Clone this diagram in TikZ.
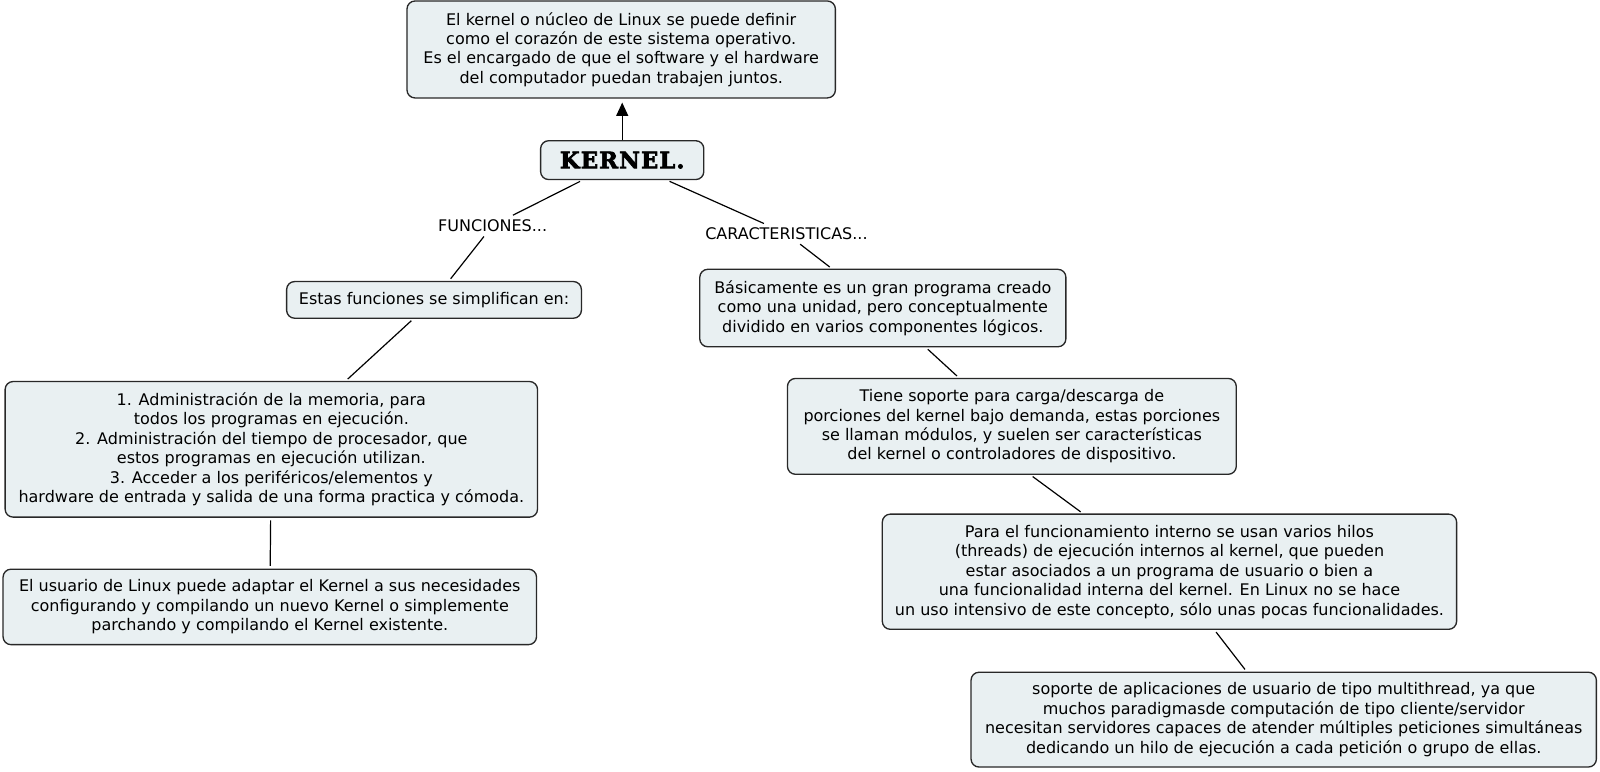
\documentclass[tikz,border=0pt]{standalone}
\usepackage{fontspec}
\setmainfont{DejaVu Sans}
\newfontfamily\titlefont{DejaVu Serif}[LetterSpace=5,BoldFeatures={FakeBold=3}]
\usetikzlibrary{arrows.meta}
\definecolor{boxfill}{RGB}{233,240,242}
\definecolor{boxline}{RGB}{40,40,40}
\tikzset{
  conbox/.style={draw=boxline,fill=boxfill,line width=1pt,rounded corners=6pt,
    align=center,inner sep=2pt,font=\fontsize{12}{14.6}\selectfont},
  conlabel/.style={inner sep=2pt,font=\fontsize{12}{14.6}\selectfont},
  link/.style={line width=0.9pt,shorten <=2pt,shorten >=2pt}
}
\begin{document}
\begin{tikzpicture}[x=0.765pt,y=0.765pt,yscale=-1]
  \useasboundingbox (0,0) rectangle (1568.6,755.9);

  %Rounded Rect
  \node [conbox,minimum width=321.3pt,minimum height=72.7pt] (def) at (609,48.5)
    {El kernel o núcleo de Linux se puede definir\\
     como el corazón de este sistema operativo.\\
     Es el encargado de que el software y el hardware\\
     del computador puedan trabajen juntos.};
  %Rounded Rect
  \node [conbox,minimum width=122.4pt,minimum height=29.1pt,font=\fontsize{17}{17}\titlefont\bfseries] (kernel) at (610,157) {KERNEL.};

  % Text Node
  \node [conlabel] (fun) at (483,221) {FUNCIONES...};
  % Text Node
  \node [conlabel] (car) at (771,229) {CARACTERISTICAS...};

  %Rounded Rect
  \node [conbox,minimum width=221.1pt,minimum height=27.5pt] (simp) at (425.5,294)
    {Estas funciones se simplifican en:};
  %Rounded Rect
  \node [conbox,minimum width=399.3pt,minimum height=101.7pt] (admin) at (266,440.5)
    {1. Administración de la memoria, para\\
     todos los programas en ejecución.\\
     2. Administración del tiempo de procesador, que\\
     estos programas en ejecución utilizan.\\
     3. Acceder a los periféricos/elementos y\\
     hardware de entrada y salida de una forma practica y cómoda.};
  %Rounded Rect
  \node [conbox,minimum width=400.1pt,minimum height=56.6pt] (user) at (264.5,595)
    {El usuario de Linux puede adaptar el Kernel a sus necesidades\\
     configurando y compilando un nuevo Kernel o simplemente\\
     parchando y compilando el Kernel existente.};

  %Rounded Rect
  \node [conbox,minimum width=274.6pt,minimum height=58.1pt] (prog) at (865.5,302)
    {Básicamente es un gran programa creado\\
     como una unidad, pero conceptualmente\\
     dividido en varios componentes lógicos.};
  %Rounded Rect
  \node [conbox,minimum width=336.6pt,minimum height=71.9pt] (mod) at (992,418)
    {Tiene soporte para carga/descarga de\\
     porciones del kernel bajo demanda, estas porciones\\
     se llaman módulos, y suelen ser características\\
     del kernel o controladores de dispositivo.};
  %Rounded Rect
  \node [conbox,minimum width=430.7pt,minimum height=86.4pt] (hilos) at (1146.5,560.5)
    {Para el funcionamiento interno se usan varios hilos\\
     (threads) de ejecución internos al kernel, que pueden\\
     estar asociados a un programa de usuario o bien a\\
     una funcionalidad interna del kernel. En Linux no se hace\\
     un uso intensivo de este concepto, sólo unas pocas funcionalidades.};
  %Rounded Rect
  \node [conbox,minimum width=469pt,minimum height=71.1pt] (multi) at (1258.5,705.5)
    {soporte de aplicaciones de usuario de tipo multithread, ya que\\
     muchos paradigmasde computación de tipo cliente/servidor\\
     necesitan servidores capaces de atender múltiples peticiones simultáneas\\
     dedicando un hilo de ejecución a cada petición o grupo de ellas.};

  %Arrow
  \draw [line width=0.9pt,-{Triangle[length=10pt,width=9pt]},shorten >=3pt] (kernel.north) -- (kernel.north |- def.south);

  %Straight Lines
  \draw [link] (kernel) -- (fun);
  \draw [link] (fun) -- (simp);
  \draw [link] (simp) -- (admin);
  \draw [link] (admin) -- (user);
  \draw [link] (kernel) -- (car);
  \draw [link] (car) -- (prog);
  \draw [link] (prog) -- (mod);
  \draw [link] ([xshift=14pt]mod.south) -- ([xshift=-65pt]hilos.north);
  \draw [link] (hilos) -- (multi);
\end{tikzpicture}
\end{document}
